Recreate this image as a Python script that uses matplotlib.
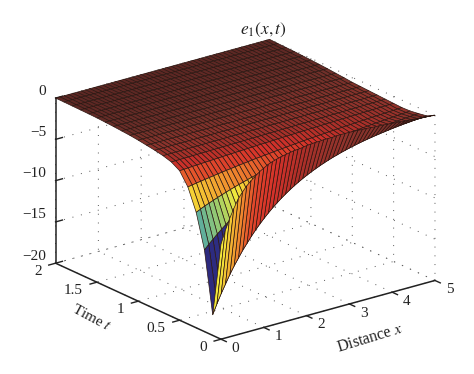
import numpy as np
from matplotlib import pyplot as plt
from matplotlib.colors import LinearSegmentedColormap, Normalize

plt.rcParams['font.family'] = ['Liberation Serif', 'DejaVu Serif']
plt.rcParams['mathtext.fontset'] = 'stix'

x_vals = [0.1 * i for i in range(51)]
t_vals = [0.1 * i for i in range(21)]

# values, one row for each t
e_t00 = [-8.5,-7,-5.7,-4.6,-3.6,-2.9,-2.3,-1.8,-1.4,-1,
         -.7,-.4,-.2,-.05,.1,.2,.3,.4,.45,.5,
         .6,.65,.7,.7,.75,.75,.75,.8,.8,.8,
         .8,.75,.75,.7,.7,.65,.6,.6,.55,.5,
         .45,.4,.35,.3,.3,.25,.2,.15,.1,.05,
         0]
e_t01 = [-17.5,-16.3,-15.2,-14.2,-13.2,-12.3,-11.5,-10.7,-10,-9.3,
         -8.67,-8.08,-7.53,-7.02,-6.54,-6.1,-5.68,-5.3,-4.94,-4.6,
         -4.29,-4,-3.73,-3.47,-3.24,-3.02,-2.81,-2.62,-2.44,-2.28,
         -2.12,-1.98,-1.84,-1.72,-1.6,-1.49,-1.39,-1.3,-1.21,-1.13,
         -1.05,-.98,-.91,-.85,-.79,-.74,-.69,-.64,-.6,-.56,
         -.52]
e_t02 = [-10.1,-9.57,-9.08,-8.6,-8.16,-7.73,-7.33,-6.95,-6.59,-6.24,
         -5.92,-5.61,-5.32,-5.04,-4.78,-4.53,-4.3,-4.07,-3.86,-3.66,
         -3.47,-3.29,-3.12,-2.96,-2.8,-2.66,-2.52,-2.39,-2.26,-2.15,
         -2.04,-1.93,-1.83,-1.73,-1.64,-1.56,-1.48,-1.4,-1.33,-1.26,
         -1.19,-1.13,-1.07,-1.02,-.96,-.91,-.87,-.82,-.78,-.74,
         -.7]
e_t03 = [-6,-5.77,-5.55,-5.34,-5.14,-4.94,-4.76,-4.57,-4.4,-4.23,
         -4.07,-3.92,-3.77,-3.62,-3.49,-3.35,-3.22,-3.1,-2.98,-2.87,
         -2.76,-2.65,-2.55,-2.46,-2.36,-2.27,-2.19,-2.1,-2.02,-1.95,
         -1.87,-1.8,-1.73,-1.67,-1.6,-1.54,-1.48,-1.43,-1.37,-1.32,
         -1.27,-1.22,-1.17,-1.13,-1.09,-1.05,-1.01,-.97,-.93,-.89,
         -.85]
e_t04 = [-3.4,-3.31,-3.22,-3.14,-3.06,-2.98,-2.9,-2.82,-2.75,-2.68,
         -2.61,-2.54,-2.47,-2.41,-2.35,-2.28,-2.22,-2.17,-2.11,-2.06,
         -2,-1.95,-1.9,-1.85,-1.8,-1.75,-1.71,-1.66,-1.62,-1.58,
         -1.54,-1.5,-1.46,-1.42,-1.38,-1.35,-1.31,-1.28,-1.25,-1.21,
         -1.18,-1.15,-1.12,-1.09,-1.06,-1.04,-1.01,-.98,-.96,-.93,
         -.9]
e_t05 = [-1.9,-1.87,-1.84,-1.81,-1.78,-1.75,-1.72,-1.7,-1.67,-1.64,
         -1.62,-1.59,-1.57,-1.54,-1.52,-1.49,-1.47,-1.45,-1.42,-1.4,
         -1.38,-1.36,-1.34,-1.31,-1.29,-1.27,-1.25,-1.23,-1.21,-1.19,
         -1.17,-1.16,-1.14,-1.12,-1.1,-1.08,-1.07,-1.05,-1.03,-1.02,
         -1,-.98,-.97,-.95,-.94,-.92,-.91,-.89,-.88,-.86,
         -.85]
e_t06 = [-1.3,-1.29,-1.28,-1.27,-1.26,-1.25,-1.24,-1.23,-1.22,-1.21,
         -1.2,-1.19,-1.18,-1.17,-1.16,-1.15,-1.14,-1.13,-1.12,-1.11,
         -1.1,-1.09,-1.08,-1.07,-1.06,-1.05,-1.04,-1.03,-1.02,-1.01,
         -1,-.99,-.98,-.97,-.96,-.95,-.94,-.93,-.92,-.91,
         -.9,-.89,-.88,-.87,-.86,-.85,-.84,-.83,-.82,-.81,
         -.8]
e_t07 = [-1,-.99,-.99,-.98,-.98,-.97,-.97,-.96,-.96,-.95,
         -.95,-.94,-.94,-.93,-.93,-.92,-.92,-.91,-.91,-.9,
         -.9,-.89,-.89,-.88,-.88,-.87,-.87,-.86,-.86,-.85,
         -.85,-.84,-.84,-.83,-.83,-.82,-.82,-.81,-.81,-.8,
         -.8,-.79,-.79,-.78,-.78,-.77,-.77,-.76,-.76,-.75,
         -.75]
e_t08 = [-.8,-.8,-.8,-.79,-.79,-.79,-.79,-.79,-.78,-.78,
         -.78,-.78,-.78,-.77,-.77,-.77,-.77,-.77,-.76,-.76,
         -.76,-.76,-.76,-.75,-.75,-.75,-.75,-.75,-.74,-.74,
         -.74,-.74,-.74,-.73,-.73,-.73,-.73,-.73,-.72,-.72,
         -.72,-.72,-.72,-.71,-.71,-.71,-.71,-.71,-.7,-.7,
         -.7]
e_t09 = [-.65,-.65,-.65,-.65,-.65,-.65,-.65,-.65,-.65,-.65,
         -.66,-.66,-.66,-.66,-.66,-.66,-.66,-.66,-.66,-.66,
         -.66,-.66,-.66,-.66,-.66,-.66,-.66,-.66,-.66,-.66,
         -.66,-.66,-.66,-.66,-.66,-.66,-.66,-.66,-.66,-.66,
         -.65,-.65,-.65,-.65,-.65,-.65,-.65,-.65,-.65,-.65,
         -.65]
e_t10 = [-.5,-.5,-.5,-.51,-.51,-.51,-.51,-.51,-.52,-.52,
         -.52,-.52,-.52,-.53,-.53,-.53,-.53,-.53,-.54,-.54,
         -.54,-.54,-.54,-.55,-.55,-.55,-.55,-.55,-.56,-.56,
         -.56,-.56,-.56,-.57,-.57,-.57,-.57,-.57,-.58,-.58,
         -.58,-.58,-.58,-.59,-.59,-.59,-.59,-.59,-.6,-.6,
         -.6]
e_t11 = [-.38,-.38,-.38,-.39,-.39,-.39,-.39,-.4,-.4,-.4,
         -.4,-.41,-.41,-.41,-.41,-.42,-.42,-.42,-.42,-.43,
         -.43,-.43,-.43,-.44,-.44,-.44,-.44,-.45,-.45,-.45,
         -.45,-.46,-.46,-.46,-.46,-.47,-.47,-.47,-.47,-.48,
         -.48,-.48,-.48,-.49,-.49,-.49,-.49,-.5,-.5,-.5,
         -.5]
e_t12 = [-.3,-.3,-.3,-.31,-.31,-.31,-.31,-.32,-.32,-.32,
         -.32,-.33,-.33,-.33,-.33,-.34,-.34,-.34,-.34,-.35,
         -.35,-.35,-.35,-.36,-.36,-.36,-.36,-.37,-.37,-.37,
         -.37,-.38,-.38,-.38,-.38,-.39,-.39,-.39,-.39,-.4,
         -.4,-.4,-.4,-.41,-.41,-.41,-.41,-.42,-.42,-.42,
         -.42]
e_t13 = [-.22,-.22,-.22,-.23,-.23,-.23,-.23,-.24,-.24,-.24,
         -.24,-.24,-.25,-.25,-.25,-.25,-.26,-.26,-.26,-.26,
         -.26,-.27,-.27,-.27,-.27,-.28,-.28,-.28,-.28,-.28,
         -.29,-.29,-.29,-.29,-.3,-.3,-.3,-.3,-.3,-.31,
         -.31,-.31,-.31,-.32,-.32,-.32,-.32,-.32,-.33,-.33,
         -.33]
e_t14 = [-.16,-.16,-.16,-.17,-.17,-.17,-.17,-.17,-.18,-.18,
         -.18,-.18,-.18,-.19,-.19,-.19,-.19,-.19,-.2,-.2,
         -.2,-.2,-.2,-.21,-.21,-.21,-.21,-.21,-.22,-.22,
         -.22,-.22,-.22,-.23,-.23,-.23,-.23,-.23,-.24,-.24,
         -.24,-.24,-.24,-.25,-.25,-.25,-.25,-.25,-.26,-.26,
         -.26]
e_t15 = [-.1,-.1,-.1,-.11,-.11,-.11,-.11,-.11,-.12,-.12,
         -.12,-.12,-.12,-.13,-.13,-.13,-.13,-.13,-.14,-.14,
         -.14,-.14,-.14,-.15,-.15,-.15,-.15,-.15,-.16,-.16,
         -.16,-.16,-.16,-.17,-.17,-.17,-.17,-.17,-.18,-.18,
         -.18,-.18,-.18,-.19,-.19,-.19,-.19,-.19,-.2,-.2,
         -.2]
e_t16 = [-.07,-.07,-.07,-.08,-.08,-.08,-.08,-.08,-.08,-.08,
         -.09,-.09,-.09,-.09,-.09,-.09,-.1,-.1,-.1,-.1,
         -.1,-.1,-.1,-.11,-.11,-.11,-.11,-.11,-.11,-.12,
         -.12,-.12,-.12,-.12,-.12,-.13,-.13,-.13,-.13,-.13,
         -.13,-.13,-.14,-.14,-.14,-.14,-.14,-.14,-.15,-.15,
         -.15]
e_t17 = [-.05,-.05,-.05,-.05,-.05,-.05,-.05,-.06,-.06,-.06,
         -.06,-.06,-.06,-.06,-.06,-.06,-.07,-.07,-.07,-.07,
         -.07,-.07,-.07,-.07,-.07,-.08,-.08,-.08,-.08,-.08,
         -.08,-.08,-.08,-.08,-.09,-.09,-.09,-.09,-.09,-.09,
         -.09,-.09,-.09,-.1,-.1,-.1,-.1,-.1,-.1,-.1,
         -.1]
e_t18 = [-.03,-.03,-.03,-.03,-.03,-.03,-.03,-.04,-.04,-.04,
         -.04,-.04,-.04,-.04,-.04,-.04,-.04,-.04,-.05,-.05,
         -.05,-.05,-.05,-.05,-.05,-.05,-.05,-.05,-.05,-.06,
         -.06,-.06,-.06,-.06,-.06,-.06,-.06,-.06,-.06,-.06,
         -.07,-.07,-.07,-.07,-.07,-.07,-.07,-.07,-.07,-.07,
         -.07]
e_t19 = [-.01,-.01,-.01,-.01,-.01,-.01,-.01,-.02,-.02,-.02,
         -.02,-.02,-.02,-.02,-.02,-.02,-.02,-.02,-.02,-.02,
         -.03,-.03,-.03,-.03,-.03,-.03,-.03,-.03,-.03,-.03,
         -.03,-.03,-.03,-.03,-.03,-.03,-.03,-.04,-.04,-.04,
         -.04,-.04,-.04,-.04,-.04,-.04,-.04,-.04,-.04,-.04,
         -.04]
e_t20 = [0,0,0,0,0,0,0,0,0,0,
         0,0,0,0,0,0,0,0,0,0,
         0,0,0,0,0,0,0,0,0,0,
         0,0,0,0,0,0,0,0,0,0,
         0,0,0,0,0,0,0,0,0,0,
         0]

# shade of the steep front strip between t=0 and t=0.1
front_shade = [-6.5,-6.3,-5.8,-5.2,-4.8,-4.2,-3.8,-3.4,-3,-2.8,
               -2.5,-2.3,-2.2,-2,-1.9,-1.8,-1.7,-1.6,-1.5,-1.4,
               -1.3,-1.2,-1.15,-1.1,-1.05,-1,-.95,-.9,-.9,-.85,
               -.8,-.8,-.75,-.75,-.7,-.7,-.65,-.65,-.6,-.6,
               -.55,-.55,-.5,-.5,-.5,-.45,-.45,-.4,-.4,-.4,
               -.4]

x_ticks = [0, 1, 2, 3, 4, 5]
t_ticks = [0, 0.5, 1, 1.5, 2]
t_labels = ['0', '0.5', '1', '1.5', '2']
z_ticks = [-20, -15, -10, -5, 0]

e1 = np.array([e_t00, e_t01, e_t02, e_t03, e_t04, e_t05, e_t06, e_t07, e_t08, e_t09, e_t10,
               e_t11, e_t12, e_t13, e_t14, e_t15, e_t16, e_t17, e_t18, e_t19, e_t20])
X, T = np.meshgrid(x_vals, t_vals)

# muted print version of jet
zmin = -17.5
stops = [(-17.5, '#2d2a7e'), (-13, '#2d2f86'), (-11, '#4f8fa0'), (-10, '#63b29a'),
         (-8, '#a4cf66'), (-6.5, '#f4e83a'), (-5.2, '#f3b031'), (-4, '#ee7f2d'),
         (-3, '#e2492b'), (-2, '#d4312a'), (-1.3, '#ab2f29'), (-.8, '#8f332c'),
         (-.4, '#70302a'), (0, '#5e2824')]
cmap = LinearSegmentedColormap.from_list('print_jet', [((z - zmin) / -zmin, c) for z, c in stops])
norm = Normalize(zmin, 0)
shade = e1.copy()
shade[0] = front_shade
colors = cmap(norm(shade))

fig = plt.figure(figsize=(4.74, 3.74), dpi=100)
ax = fig.add_axes([35.25 / 474, -25.3 / 374, 409 / 474, 409 / 374], projection='3d', proj_type='ortho')
ax.view_init(elev=20.8, azim=-127.7)
ax.set_box_aspect((1, 1, 0.653))
ax.patch.set_alpha(0)

ax.plot_surface(X, T, e1, facecolors=colors, rstride=1, cstride=1, shade=False,
                edgecolor='#2c1712', linewidth=0.5)

ax.set_xlim(0, 5)
ax.set_ylim(0, 2)
ax.set_zlim(-20, 0)
ax.set_xticks(x_ticks)
ax.set_yticks(t_ticks)
ax.set_yticklabels(t_labels)
ax.set_zticks(z_ticks)
ax.tick_params(axis='both', labelsize=11, colors='#222222', pad=2)
ax.tick_params(axis='z', labelsize=11, colors='#222222', pad=-4.2)

for axis in (ax.xaxis, ax.yaxis, ax.zaxis):
    axis.set_pane_color((1, 1, 1, 0))
    axis.pane.set_edgecolor((1, 1, 1, 0))
    axis.line.set_color('#222222')
    axis.line.set_linewidth(1.1)
    axis._axinfo['grid'].update(color='#555555', linewidth=0.7, linestyle=(0, (1, 8)))
    axis._axinfo['tick']['linewidth'] = {True: 1.0, False: 0.5}

for lab in ax.xaxis.get_ticklabels():
    lab.set_va('bottom')
    lab.set_ha('left')
for lab in ax.yaxis.get_ticklabels():
    lab.set_va('bottom')
    lab.set_ha('right')
for lab in ax.zaxis.get_ticklabels():
    lab.set_va('bottom')
    lab.set_ha('right')

ax.xaxis._axinfo['tick'].update(inward_factor=0.4, outward_factor=0.0)
ax.yaxis._axinfo['tick'].update(inward_factor=0.4, outward_factor=0.0)
ax.zaxis._axinfo['tick'].update(inward_factor=0.0, outward_factor=0.4)

ax.text2D(240 / 474, 1 - 34 / 374, r'$e_1(x,t)$', transform=fig.transFigure, fontsize=12.5, color='#222222')
ax.text2D(92 / 474, 1 - 318 / 374, r'Time $t$', transform=fig.transFigure, fontsize=11,
          rotation=-28, ha='center', va='center', color='#222222')
ax.text2D(370 / 474, 1 - 338 / 374, r'Distance $x$', transform=fig.transFigure, fontsize=11.5,
          rotation=17, ha='center', va='center', color='#222222')

fig.savefig('out.png', dpi=100)
